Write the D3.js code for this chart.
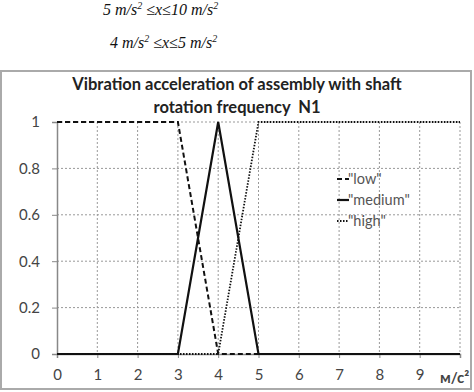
<!DOCTYPE html>
<html>
<head>
<meta charset="utf-8">
<script src="https://cdn.jsdelivr.net/npm/d3@7"></script>
<style>
  body { margin: 0; background: #fff; }
  svg { display: block; }
</style>
</head>
<body>
<svg id="chart"></svg>
<script>
// data
const xTicks = [0, 1, 2, 3, 4, 5, 6, 7, 8, 9];
const yTicks = [0, 0.2, 0.4, 0.6, 0.8, 1];
const lowX = [0, 3, 4, 10];
const lowY = [1, 1, 0, 0];
const mediumX = [0, 3, 4, 5, 10];
const mediumY = [0, 0, 1, 0, 0];
const highX = [0, 4, 5, 10];
const highY = [0, 0, 1, 1];
const seriesNames = ['"low"', '"medium"', '"high"'];

const W = 474, H = 392;
const svg = d3.select('#chart').attr('width', W).attr('height', H);

const x = d3.scaleLinear().domain([0, 10]).range([57, 460]);
const y = d3.scaleLinear().domain([0, 1]).range([354, 122]);

// formulas above the chart
const formulas = svg.append('g')
  .attr('font-family', 'Liberation Serif, serif')
  .attr('font-style', 'italic')
  .attr('font-size', 16)
  .attr('fill', '#111');

function formula (yy, xx, a, b) {
  const t = formulas.append('text').attr('x', xx).attr('y', yy);
  t.append('tspan').text(a + ' m/s');
  t.append('tspan').attr('font-size', 10).attr('dy', -6).text('2');
  t.append('tspan').attr('dy', 6).text(' \u2264x\u2264' + b + ' m/s');
  t.append('tspan').attr('font-size', 10).attr('dy', -6).text('2');
}
formula(15, 103, '5', '10');
formula(48, 110, '4', '5');

// chart frame
svg.append('rect')
  .attr('x', 1).attr('y', 71).attr('width', 470).attr('height', 318)
  .attr('fill', '#fff').attr('stroke', '#aaa').attr('stroke-width', 2);

// title
svg.append('g')
  .attr('font-family', 'Lato, sans-serif')
  .attr('font-weight', 'bold')
  .attr('font-size', 16.5)
  .attr('fill', '#222')
  .attr('text-anchor', 'middle')
  .selectAll('text')
  .data(['Vibration acceleration of assembly with shaft', 'rotation frequency\u00a0\u00a0N1'])
  .enter().append('text')
  .attr('x', 237)
  .attr('y', function (d, i) { return 90 + i * 23; })
  .text(function (d) { return d; });

// grid
const grid = svg.append('g').attr('stroke', '#999').attr('stroke-width', 1).attr('stroke-dasharray', '2,2');
grid.selectAll('.v')
  .data(d3.range(1, 11))
  .enter().append('line')
  .attr('x1', function (d) { return x(d); })
  .attr('x2', function (d) { return x(d); })
  .attr('y1', y(1)).attr('y2', y(0));
grid.selectAll('.h')
  .data(yTicks.slice(1))
  .enter().append('line')
  .attr('x1', x(0)).attr('x2', x(10))
  .attr('y1', function (d) { return y(d); })
  .attr('y2', function (d) { return y(d); });

// axes
const yAxis = svg.append('g')
  .attr('transform', 'translate(' + x(0) + ',0)')
  .call(d3.axisLeft(y).tickValues(yTicks).tickSize(5).tickPadding(12)
    .tickFormat(function (d) { return d === 0 || d === 1 ? d : d3.format('.1f')(d); }));
const xAxis = svg.append('g')
  .attr('transform', 'translate(0,' + y(0) + ')')
  .call(d3.axisBottom(x).tickValues(xTicks).tickSize(4).tickPadding(11)
    .tickFormat(d3.format('d')));
[yAxis, xAxis].forEach(function (ax) {
  ax.selectAll('.domain').attr('stroke', '#888').attr('stroke-width', 1.5);
  ax.selectAll('.tick line').attr('stroke', '#888');
  ax.selectAll('text')
    .attr('font-family', 'Lato, sans-serif')
    .attr('font-size', 15)
    .attr('fill', '#444');
});
xAxis.append('line')
  .attr('x1', x(9)).attr('x2', x(10)).attr('y1', 0).attr('y2', 0)
  .attr('stroke', '#888').attr('stroke-width', 1.5);
svg.append('text')
  .attr('x', 440).attr('y', 383)
  .attr('font-family', 'Lato, sans-serif')
  .attr('font-size', 15)
  .attr('font-weight', 'bold')
  .attr('fill', '#444')
  .text('\u043c/\u0441\u00b2');

// series
const line = d3.line()
  .x(function (d) { return x(d[0]); })
  .y(function (d) { return y(d[1]); });
const series = [
  { xs: lowX, ys: lowY, dash: '5,3', width: 2 },
  { xs: mediumX, ys: mediumY, dash: null, width: 2.2 },
  { xs: highX, ys: highY, dash: '1.5,1.5', width: 1.8 }
];
svg.append('g').selectAll('path')
  .data(series)
  .enter().append('path')
  .attr('fill', 'none')
  .attr('stroke', '#111')
  .attr('stroke-width', function (d) { return d.width; })
  .attr('stroke-dasharray', function (d) { return d.dash; })
  .attr('d', function (d) { return line(d3.zip(d.xs, d.ys)); });

// legend
const legend = svg.append('g').attr('transform', 'translate(337,179)');
const item = legend.selectAll('g')
  .data(series)
  .enter().append('g')
  .attr('transform', function (d, i) { return 'translate(0,' + i * 21 + ')'; });
item.append('line')
  .attr('x1', 0).attr('x2', 12).attr('y1', 0).attr('y2', 0)
  .attr('stroke', '#111')
  .attr('stroke-width', function (d) { return d.width; })
  .attr('stroke-dasharray', function (d) { return d.dash; });
item.append('text')
  .attr('x', 11).attr('y', 5)
  .attr('font-family', 'Lato, sans-serif')
  .attr('font-size', 14.5)
  .attr('fill', '#555')
  .text(function (d, i) { return seriesNames[i]; });
</script>
</body>
</html>
